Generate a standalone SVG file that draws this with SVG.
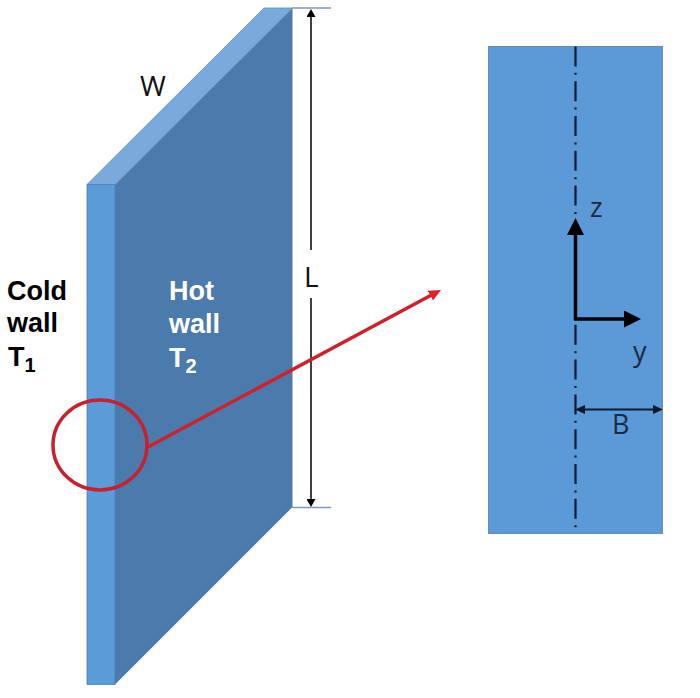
<svg xmlns="http://www.w3.org/2000/svg" width="700" height="698" viewBox="0 0 700 698">
<style>
.t{font-family:"Open Sans","Noto Sans","Liberation Sans",sans-serif}
.b{font-family:"Liberation Sans",Arial,sans-serif;font-weight:700;font-size:27px}
.r{font-size:27px;fill:#1a2a44}
.s{font-size:20px}
.dim{stroke:#000;stroke-width:1.5;fill:none}
.ext{stroke:#7f9cb8;stroke-width:1.3;fill:none}
.red{stroke:#c8202e;fill:none}
</style>
<defs>
<marker id="a" viewBox="0 0 10 10" refX="5" refY="5" markerWidth="8" markerHeight="9" markerUnits="userSpaceOnUse" orient="auto-start-reverse" preserveAspectRatio="none"><path d="M0 0L10 5L0 10Z" fill="#000"/></marker>
<marker id="k" viewBox="0 0 10 10" refX="5" refY="5" markerWidth="17" markerHeight="17" markerUnits="userSpaceOnUse" orient="auto" preserveAspectRatio="none"><path d="M0 0L10 5L0 10Z" fill="#000"/></marker>
<marker id="m" viewBox="0 0 10 10" refX="5" refY="5" markerWidth="10" markerHeight="9" markerUnits="userSpaceOnUse" orient="auto-start-reverse" preserveAspectRatio="none"><path d="M0 0L10 5L0 10Z" fill="#0b1a33"/></marker>
<marker id="h" viewBox="0 0 10 10" refX="5" refY="5" markerWidth="12" markerHeight="11" markerUnits="userSpaceOnUse" orient="auto" preserveAspectRatio="none"><path d="M0 0L10 5L0 10Z" fill="#e0202a"/></marker>
</defs>
<rect width="700" height="698" fill="#fff"/>
<g id="wall">
<polygon points="115,184.500 292.500,8 292.500,507 115,684.500" fill="#4a7bac"/>
<polygon points="87,184.500 264,8 292.500,8 115,184.500" fill="#7aaadb" stroke="#5f8fc0" stroke-width="0.800"/>
<rect x="87" y="184.500" width="28" height="500" fill="#5b9bd8" stroke="#4a80b5" stroke-width="0.800"/>
</g>
<g id="section">
<rect x="488.500" y="46.500" width="174" height="487" fill="#5b9ad7" stroke="#6b8cab" stroke-width="1"/>
</g>
<g id="connectors">
<path class="ext" d="M292 8H331M292 507.500H331"/>
<path class="dim" d="M311 250V13" marker-end="url(#a)"/>
<path class="dim" d="M311 298V503" marker-end="url(#a)"/>
<ellipse class="red" cx="100" cy="445" rx="47" ry="45" stroke-width="3.500"/>
<path d="M148 447L435.700 292.800" fill="none" stroke="#d0202c" stroke-width="3.500" marker-end="url(#h)"/>
<path d="M575.500 46.400V531" fill="none" stroke="#0b1a33" stroke-width="2.200" stroke-dasharray="20 6.400 2 6.400"/>
<path d="M575.500 320V226.500" fill="none" stroke="#000" stroke-width="3.500" marker-end="url(#k)"/>
<path d="M574 319H632.500" fill="none" stroke="#000" stroke-width="3.500" marker-end="url(#k)"/>
<path d="M580 409.500H658" fill="none" stroke="#0b1a33" stroke-width="2" marker-start="url(#m)" marker-end="url(#m)"/>
</g>
<g id="labels">
<text class="t" x="140" y="96" font-size="28" fill="#111">W</text>
<text class="t" x="304" y="287" font-size="28" fill="#111">L</text>
<text class="b" x="7" y="300" fill="#000">Cold</text>
<text class="b" x="7" y="332" fill="#000">wall</text>
<text class="b" x="8" y="366" fill="#000">T<tspan class="s" dy="6">1</tspan></text>
<text class="b" x="169" y="300" fill="#fff">Hot</text>
<text class="b" x="169" y="333" fill="#fff">wall</text>
<text class="b" x="169" y="367" fill="#fff">T<tspan class="s" dy="6">2</tspan></text>
<text class="t r" x="590" y="217">z</text>
<text class="t r" x="633" y="361">y</text>
<text class="t r" x="612" y="434">B</text>
</g>
</svg>
